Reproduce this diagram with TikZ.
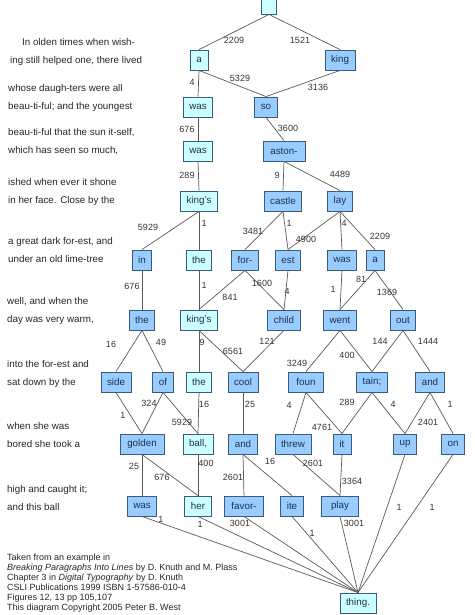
\documentclass[tikz,border=0pt]{standalone}
\usepackage{fontspec}
\setmainfont{Liberation Sans}
\usepackage{xcolor}
\usepackage{tikz}
\usetikzlibrary{positioning}
\definecolor{palecyan}{HTML}{CCFFFF}
\definecolor{skyblue}{HTML}{99CCFF}
\definecolor{boxline}{HTML}{3A5C7C}
\definecolor{boxink}{HTML}{1C3050}

\begin{document}
\begin{tikzpicture}[x=1pt, y=-1pt,
    bluebox/.style={rectangle, draw=boxline, fill=skyblue, line width=0.9pt, minimum width=18pt, minimum height=20pt, inner xsep=6pt, inner ysep=0pt, font=\fontsize{9.8}{11}\selectfont, text=boxink},
    palebox/.style={bluebox, fill=palecyan},
    link/.style={draw=black!65, line width=0.7pt},
    wt/.style={font=\fontsize{9}{10}\selectfont, text=black!80, inner sep=0pt},
    verse/.style={anchor=west, align=left, font=\fontsize{9.8}{18}\selectfont, text=black!85, inner sep=0pt},
    credit/.style={anchor=north west, align=left, font=\fontsize{9}{10}\selectfont, text=black!85, inner sep=0pt}
]
    \useasboundingbox (0,0) rectangle (474,615);

    % Paragraph text (left)
    \node[verse] (v1) at (8,52) {\hspace*{14pt}In olden times when wish-\\\hspace*{2pt}ing still helped one, there lived};
    \node[verse] (v2) at (8,97.5) {whose daugh-ters were all\\beau-ti-ful; and the youngest};
    \node[verse] (v3) at (8,142) {beau-ti-ful that the sun it-self,\\which has seen so much,};
    \node[verse] (v4) at (8,192) {ished when ever it shone\\in her face. Close by the};
    \node[verse] (v5) at (8,250) {a great dark for-est, and\\under an old lime-tree};
    \node[verse] (v6) at (7,310.5) {well, and when the\\day was very warm,};
    \node[verse] (v7) at (7,373.5) {into the for-est and\\sat down by the};
    \node[verse] (v8) at (7,434.5) {when she was\\bored she took a};
    \node[verse] (v9) at (7,498) {high and caught it;\\and this ball};

    % Breakpoints
    \node[palebox, minimum width=15pt] (top) at (269,4) {};
    \node[palebox] (a) at (199,60) {a};
    \node[bluebox] (king) at (340,60) {king};
    \node[palebox] (was1) at (198,107) {was};
    \node[bluebox] (so) at (266,107) {so};
    \node[palebox] (was2) at (198,151) {was};
    \node[bluebox, minimum width=42pt] (aston) at (284,151) {aston-};
    \node[palebox] (kings1) at (199,201) {king's};
    \node[bluebox] (castle) at (283,201) {castle};
    \node[bluebox] (lay) at (340,201) {lay};
    \node[bluebox] (in) at (142,260) {in};
    \node[palebox] (the1) at (199,260) {the};
    \node[bluebox] (for) at (245,260) {for-};
    \node[bluebox] (est) at (288,260) {est};
    \node[bluebox] (was3) at (342,260) {was};
    \node[bluebox] (a2) at (375,260) {a};
    \node[bluebox] (the2) at (142,320) {the};
    \node[palebox] (kings2) at (199,320) {king's};
    \node[bluebox] (child) at (284,320) {child};
    \node[bluebox] (went) at (340,320) {went};
    \node[bluebox] (out) at (403,320) {out};
    \node[bluebox] (side) at (116,382) {side};
    \node[bluebox] (of) at (163,382) {of};
    \node[palebox] (the3) at (199,382) {the};
    \node[bluebox] (cool) at (243,382) {cool};
    \node[bluebox, minimum width=35pt] (foun) at (306,382) {foun};
    \node[bluebox] (tain) at (372,382) {tain;};
    \node[bluebox] (and1) at (430,382) {and};
    \node[bluebox, minimum width=44pt] (golden) at (142,444) {golden};
    \node[palebox] (ball) at (198,444) {ball,};
    \node[bluebox] (and2) at (243,444) {and};
    \node[bluebox] (threw) at (293,444) {threw};
    \node[bluebox] (it) at (342,444) {it};
    \node[bluebox] (up) at (405,444) {up};
    \node[bluebox] (on) at (453,444) {on};
    \node[bluebox] (was4) at (142,506) {was};
    \node[palebox] (her) at (198,506) {her};
    \node[bluebox, minimum width=39pt] (favor) at (244,506) {favor-};
    \node[bluebox] (ite) at (292,506) {ite};
    \node[bluebox, minimum width=37pt] (play) at (340,506) {play};
    \node[palebox] (thing) at (358,603) {thing.};

    % Feasible breaks with demerits
    \draw[link] (top.south) -- (a.north);         \node[wt] (w1) at (234,40) {2209};
    \draw[link] (top.south) -- (king.north);      \node[wt] (w2) at (300,40) {1521};
    \draw[link] (a.south) -- (was1.north);        \node[wt] (w3) at (192,82) {4};
    \draw[link] (a.south) -- (so.north);          \node[wt] (w4) at (240,78) {5329};
    \draw[link] (king.south) -- (so.north);       \node[wt] (w5) at (318,87) {3136};
    \draw[link] (was1.south) -- (was2.north);     \node[wt] (w6) at (187,129) {676};
    \draw[link] (so.south) -- (aston.north);      \node[wt] (w7) at (288,128) {3600};
    \draw[link] (was2.south) -- (kings1.north);   \node[wt] (w8) at (187,175) {289};
    \draw[link] (aston.south) -- (castle.north);  \node[wt] (w9) at (277,175) {9};
    \draw[link] (aston.south) -- (lay.north);     \node[wt] (w10) at (340,174) {4489};
    \draw[link] (kings1.south) -- (in.north);     \node[wt] (w11) at (148,227) {5929};
    \draw[link] (kings1.south) -- (the1.north);   \node[wt] (w12) at (204,223) {1};
    \draw[link] (castle.south) -- (for.north);    \node[wt] (w13) at (253,231) {3481};
    \draw[link] (castle.south) -- (est.north);    \node[wt] (w14) at (289,223) {1};
    \draw[link] (lay.south) -- (est.north);       \node[wt] (w15) at (306,239) {4900};
    \draw[link] (lay.south) -- (was3.north);      \node[wt] (w16) at (344,223) {4};
    \draw[link] (lay.south) -- (a2.north);        \node[wt] (w17) at (380,236) {2209};
    \draw[link] (in.south) -- (the2.north);       \node[wt] (w18) at (132,286) {676};
    \draw[link] (the1.south) -- (kings2.north);   \node[wt] (w19) at (204,285) {1};
    \draw[link] (for.south) -- (kings2.north);    \node[wt] (w20) at (230,297) {841};
    \draw[link] (for.south) -- (child.north);     \node[wt] (w21) at (262,283) {1600};
    \draw[link] (est.south) -- (child.north);     \node[wt] (w22) at (287,291) {4};
    \draw[link] (was3.south) -- (went.north);     \node[wt] (w23) at (333,289) {1};
    \draw[link] (a2.south) -- (went.north);       \node[wt] (w24) at (361,279) {81};
    \draw[link] (a2.south) -- (out.north);        \node[wt] (w25) at (387,292) {1369};
    \draw[link] (the2.south) -- (side.north);     \node[wt] (w26) at (111,344) {16};
    \draw[link] (the2.south) -- (of.north);       \node[wt] (w27) at (161,342) {49};
    \draw[link] (kings2.south) -- (the3.north);   \node[wt] (w28) at (202,342) {9};
    \draw[link] (kings2.south) -- (cool.north);   \node[wt] (w29) at (233,351) {6561};
    \draw[link] (child.south) -- (cool.north);    \node[wt] (w30) at (267,341) {121};
    \draw[link] (went.south) -- (foun.north);     \node[wt] (w31) at (297,363) {3249};
    \draw[link] (went.south) -- (tain.north);     \node[wt] (w32) at (347,355) {400};
    \draw[link] (out.south) -- (tain.north);      \node[wt] (w33) at (380,341) {144};
    \draw[link] (out.south) -- (and1.north);      \node[wt] (w34) at (428,341) {1444};
    \draw[link] (side.south) -- (golden.north);   \node[wt] (w35) at (123,415) {1};
    \draw[link] (of.south) -- (golden.north);     \node[wt] (w36) at (149,403) {324};
    \draw[link] (of.south) -- (ball.north);       \node[wt] (w37) at (182,422) {5929};
    \draw[link] (the3.south) -- (ball.north);     \node[wt] (w38) at (204,404) {16};
    \draw[link] (cool.south) -- (and2.north);     \node[wt] (w39) at (250,404) {25};
    \draw[link] (foun.south) -- (threw.north);    \node[wt] (w40) at (289,405) {4};
    \draw[link] (foun.south) -- (it.north);       \node[wt] (w41) at (322,427) {4761};
    \draw[link] (tain.south) -- (it.north);       \node[wt] (w42) at (347,402) {289};
    \draw[link] (tain.south) -- (up.north);       \node[wt] (w43) at (393,404) {4};
    \draw[link] (and1.south) -- (up.north);       \node[wt] (w44) at (428,422) {2401};
    \draw[link] (and1.south) -- (on.north);       \node[wt] (w45) at (450,404) {1};
    \draw[link] (golden.south) -- (was4.north);   \node[wt] (w46) at (134,466) {25};
    \draw[link] (golden.south) -- (her.north);    \node[wt] (w47) at (162,477) {676};
    \draw[link] (ball.south) -- (her.north);      \node[wt] (w48) at (206,463) {400};
    \draw[link] (and2.south) -- (favor.north);    \node[wt] (w49) at (233,477) {2601};
    \draw[link] (and2.south) -- (ite.north);      \node[wt] (w50) at (270,461) {16};
    \draw[link] (threw.south) -- (play.north);    \node[wt] (w51) at (313,463) {2601};
    \draw[link] (it.south) -- (play.north);       \node[wt] (w52) at (352,481) {3364};
    \draw[link] (was4.south) -- (thing.north);    \node[wt] (w53) at (161,519) {1};
    \draw[link] (her.south) -- (thing.north);     \node[wt] (w54) at (200,524) {1};
    \draw[link] (favor.south) -- (thing.north);   \node[wt] (w55) at (240,523) {3001};
    \draw[link] (ite.south) -- (thing.north);     \node[wt] (w56) at (312,533) {1};
    \draw[link] (play.south) -- (thing.north);    \node[wt] (w57) at (354,523) {3001};
    \draw[link] (up.south) -- (thing.north);      \node[wt] (w58) at (399,507) {1};
    \draw[link] (on.south) -- (thing.north);      \node[wt] (w59) at (432,507) {1};

    % Source note
    \node[credit] (src) at (7,554) {Taken from an example in\\
        \textit{Breaking Paragraphs Into Lines} by D. Knuth and M. Plass\\
        Chapter 3 in \textit{Digital Typography} by D. Knuth\\
        CSLI Publications 1999 ISBN 1-57586-010-4\\
        Figures 12, 13 pp 105,107\\
        This diagram Copyright 2005 Peter B. West};
\end{tikzpicture}
\end{document}
